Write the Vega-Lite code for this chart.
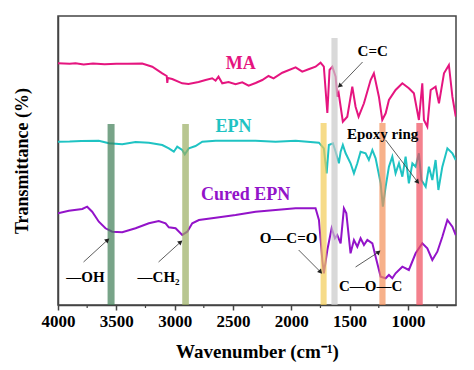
{
  "$schema": "https://vega.github.io/schema/vega-lite/v6.json",
  "autosize": "none",
  "width": 398,
  "height": 289,
  "padding": {"left": 58, "top": 16, "right": 18, "bottom": 65},
  "background": "white",
  "config": {
    "view": {"stroke": "#444", "strokeWidth": 1.5},
    "font": "Liberation Serif"
  },
  "datasets": {
    "spectra": [
      {"s": "MA", "w": 4000, "t": 241.7}, {"s": "MA", "w": 3900, "t": 241.2}, {"s": "MA", "w": 3850, "t": 241.8}, {"s": "MA", "w": 3780, "t": 240.6}, {"s": "MA", "w": 3700, "t": 241.4}, {"s": "MA", "w": 3600, "t": 240.7}, {"s": "MA", "w": 3500, "t": 241.2}, {"s": "MA", "w": 3400, "t": 241.3}, {"s": "MA", "w": 3278, "t": 241.5},
      {"s": "MA", "w": 3192, "t": 238.3}, {"s": "MA", "w": 3106, "t": 231.7}, {"s": "MA", "w": 3068, "t": 229}, {"s": "MA", "w": 3063, "t": 222}, {"s": "MA", "w": 3058, "t": 227}, {"s": "MA", "w": 3021, "t": 226},
      {"s": "MA", "w": 2935, "t": 221.7}, {"s": "MA", "w": 2881, "t": 221}, {"s": "MA", "w": 2795, "t": 223}, {"s": "MA", "w": 2735, "t": 225}, {"s": "MA", "w": 2678, "t": 226.7}, {"s": "MA", "w": 2649, "t": 224.3}, {"s": "MA", "w": 2624, "t": 228.3}, {"s": "MA", "w": 2592, "t": 221.7}, {"s": "MA", "w": 2538, "t": 223}, {"s": "MA", "w": 2478, "t": 220.7}, {"s": "MA", "w": 2420, "t": 222.7}, {"s": "MA", "w": 2366, "t": 219.3}, {"s": "MA", "w": 2306, "t": 222},
      {"s": "MA", "w": 2249, "t": 225}, {"s": "MA", "w": 2195, "t": 229}, {"s": "MA", "w": 2152, "t": 226.7}, {"s": "MA", "w": 2077, "t": 232.3}, {"s": "MA", "w": 1963, "t": 237.7}, {"s": "MA", "w": 1906, "t": 233.3}, {"s": "MA", "w": 1852, "t": 235.7}, {"s": "MA", "w": 1792, "t": 238.3}, {"s": "MA", "w": 1749, "t": 242.3}, {"s": "MA", "w": 1721, "t": 238.3}, {"s": "MA", "w": 1691, "t": 192}, {"s": "MA", "w": 1672, "t": 235}, {"s": "MA", "w": 1648, "t": 238.3}, {"s": "MA", "w": 1620, "t": 228.3}, {"s": "MA", "w": 1606, "t": 208.3}, {"s": "MA", "w": 1594, "t": 212},
      {"s": "MA", "w": 1558, "t": 183.3}, {"s": "MA", "w": 1520, "t": 188.3}, {"s": "MA", "w": 1477, "t": 218.3}, {"s": "MA", "w": 1449, "t": 198.3}, {"s": "MA", "w": 1423, "t": 188.3}, {"s": "MA", "w": 1377, "t": 201.7}, {"s": "MA", "w": 1320, "t": 225}, {"s": "MA", "w": 1292, "t": 231.7}, {"s": "MA", "w": 1249, "t": 208.3}, {"s": "MA", "w": 1220, "t": 185}, {"s": "MA", "w": 1191, "t": 191.7}, {"s": "MA", "w": 1163, "t": 205}, {"s": "MA", "w": 1106, "t": 215}, {"s": "MA", "w": 1048, "t": 221.7}, {"s": "MA", "w": 992, "t": 216.7}, {"s": "MA", "w": 949, "t": 211.7}, {"s": "MA", "w": 906, "t": 185}, {"s": "MA", "w": 877, "t": 221.7}, {"s": "MA", "w": 863, "t": 185}, {"s": "MA", "w": 834, "t": 178.3}, {"s": "MA", "w": 805, "t": 215}, {"s": "MA", "w": 763, "t": 218.3}, {"s": "MA", "w": 734, "t": 201.7}, {"s": "MA", "w": 691, "t": 231.7}, {"s": "MA", "w": 649, "t": 240}, {"s": "MA", "w": 619, "t": 208.3}, {"s": "MA", "w": 590, "t": 188.3},

      {"s": "EPN", "w": 4000, "t": 163.3}, {"s": "EPN", "w": 3900, "t": 163.5}, {"s": "EPN", "w": 3800, "t": 164}, {"s": "EPN", "w": 3650, "t": 164.3}, {"s": "EPN", "w": 3564, "t": 161.7}, {"s": "EPN", "w": 3449, "t": 160.7}, {"s": "EPN", "w": 3335, "t": 163}, {"s": "EPN", "w": 3221, "t": 162.3}, {"s": "EPN", "w": 3106, "t": 160}, {"s": "EPN", "w": 3050, "t": 156.7}, {"s": "EPN", "w": 3007, "t": 153.3}, {"s": "EPN", "w": 2978, "t": 158.3}, {"s": "EPN", "w": 2935, "t": 155}, {"s": "EPN", "w": 2913, "t": 150.7}, {"s": "EPN", "w": 2878, "t": 156.7}, {"s": "EPN", "w": 2821, "t": 159}, {"s": "EPN", "w": 2763, "t": 163.3}, {"s": "EPN", "w": 2649, "t": 164.3}, {"s": "EPN", "w": 2306, "t": 164.3}, {"s": "EPN", "w": 2135, "t": 163.3}, {"s": "EPN", "w": 1963, "t": 164.3}, {"s": "EPN", "w": 1763, "t": 162.3},
      {"s": "EPN", "w": 1721, "t": 156.7}, {"s": "EPN", "w": 1697, "t": 131.7}, {"s": "EPN", "w": 1678, "t": 160}, {"s": "EPN", "w": 1643, "t": 161.7}, {"s": "EPN", "w": 1620, "t": 153.3}, {"s": "EPN", "w": 1592, "t": 141.7}, {"s": "EPN", "w": 1577, "t": 153.3}, {"s": "EPN", "w": 1558, "t": 160}, {"s": "EPN", "w": 1534, "t": 151.7}, {"s": "EPN", "w": 1492, "t": 141.7}, {"s": "EPN", "w": 1463, "t": 131.7}, {"s": "EPN", "w": 1434, "t": 141.7}, {"s": "EPN", "w": 1406, "t": 153.3}, {"s": "EPN", "w": 1363, "t": 151.7}, {"s": "EPN", "w": 1335, "t": 145}, {"s": "EPN", "w": 1305, "t": 155}, {"s": "EPN", "w": 1277, "t": 146.7}, {"s": "EPN", "w": 1234, "t": 121.7}, {"s": "EPN", "w": 1215, "t": 98.3}, {"s": "EPN", "w": 1191, "t": 118.3}, {"s": "EPN", "w": 1163, "t": 138.3}, {"s": "EPN", "w": 1134, "t": 148.3}, {"s": "EPN", "w": 1106, "t": 131.7}, {"s": "EPN", "w": 1077, "t": 141.7}, {"s": "EPN", "w": 1048, "t": 128.3}, {"s": "EPN", "w": 1020, "t": 148.3}, {"s": "EPN", "w": 992, "t": 121.7}, {"s": "EPN", "w": 962, "t": 141.7}, {"s": "EPN", "w": 934, "t": 138.3}, {"s": "EPN", "w": 906, "t": 151.7}, {"s": "EPN", "w": 885, "t": 125}, {"s": "EPN", "w": 848, "t": 118.3}, {"s": "EPN", "w": 820, "t": 138.3}, {"s": "EPN", "w": 791, "t": 125}, {"s": "EPN", "w": 763, "t": 145}, {"s": "EPN", "w": 739, "t": 115}, {"s": "EPN", "w": 705, "t": 138.3}, {"s": "EPN", "w": 662, "t": 156.7}, {"s": "EPN", "w": 619, "t": 151.7}, {"s": "EPN", "w": 590, "t": 145},

      {"s": "Cured", "w": 4000, "t": 91.7}, {"s": "Cured", "w": 3907, "t": 94.3}, {"s": "Cured", "w": 3792, "t": 96}, {"s": "Cured", "w": 3750, "t": 98.3}, {"s": "Cured", "w": 3707, "t": 93.3}, {"s": "Cured", "w": 3650, "t": 83.3}, {"s": "Cured", "w": 3593, "t": 76.7}, {"s": "Cured", "w": 3535, "t": 73.3}, {"s": "Cured", "w": 3449, "t": 72.7}, {"s": "Cured", "w": 3335, "t": 76.7}, {"s": "Cured", "w": 3221, "t": 81.7}, {"s": "Cured", "w": 3136, "t": 84}, {"s": "Cured", "w": 3078, "t": 81.7}, {"s": "Cured", "w": 3050, "t": 77.7}, {"s": "Cured", "w": 2992, "t": 76.7}, {"s": "Cured", "w": 2935, "t": 70}, {"s": "Cured", "w": 2892, "t": 73.3}, {"s": "Cured", "w": 2849, "t": 81.7}, {"s": "Cured", "w": 2792, "t": 85}, {"s": "Cured", "w": 2649, "t": 87.3}, {"s": "Cured", "w": 2478, "t": 90}, {"s": "Cured", "w": 2306, "t": 93.3}, {"s": "Cured", "w": 2135, "t": 95}, {"s": "Cured", "w": 1963, "t": 96.7}, {"s": "Cured", "w": 1792, "t": 96.7},
      {"s": "Cured", "w": 1763, "t": 85}, {"s": "Cured", "w": 1734, "t": 45}, {"s": "Cured", "w": 1721, "t": 31.7}, {"s": "Cured", "w": 1691, "t": 55}, {"s": "Cured", "w": 1654, "t": 76.7}, {"s": "Cured", "w": 1626, "t": 66.7}, {"s": "Cured", "w": 1606, "t": 70}, {"s": "Cured", "w": 1577, "t": 61.7}, {"s": "Cured", "w": 1549, "t": 96.7}, {"s": "Cured", "w": 1528, "t": 91.7}, {"s": "Cured", "w": 1492, "t": 51.7}, {"s": "Cured", "w": 1463, "t": 65}, {"s": "Cured", "w": 1434, "t": 58.3}, {"s": "Cured", "w": 1406, "t": 66.7}, {"s": "Cured", "w": 1377, "t": 60}, {"s": "Cured", "w": 1348, "t": 65}, {"s": "Cured", "w": 1305, "t": 61.7}, {"s": "Cured", "w": 1277, "t": 48.3}, {"s": "Cured", "w": 1234, "t": 28.3}, {"s": "Cured", "w": 1191, "t": 26.7}, {"s": "Cured", "w": 1163, "t": 30}, {"s": "Cured", "w": 1134, "t": 26.7}, {"s": "Cured", "w": 1106, "t": 31.7}, {"s": "Cured", "w": 1048, "t": 38.3}, {"s": "Cured", "w": 992, "t": 35}, {"s": "Cured", "w": 934, "t": 51.7}, {"s": "Cured", "w": 877, "t": 61.7}, {"s": "Cured", "w": 834, "t": 56.7}, {"s": "Cured", "w": 791, "t": 45}, {"s": "Cured", "w": 748, "t": 53.3}, {"s": "Cured", "w": 705, "t": 68.3}, {"s": "Cured", "w": 662, "t": 85}, {"s": "Cured", "w": 619, "t": 78.3}, {"s": "Cured", "w": 590, "t": 70}
    ],
    "bands": [
      {"b": "OH", "x1": 3575, "x2": 3515, "y1": 0, "y2": 181},
      {"b": "CH2", "x1": 2935, "x2": 2878, "y1": 0, "y2": 181},
      {"b": "CO", "x1": 1749, "x2": 1697, "y1": 0, "y2": 182},
      {"b": "CC", "x1": 1656, "x2": 1603, "y1": 0, "y2": 267},
      {"b": "COC", "x1": 1245, "x2": 1192, "y1": 0, "y2": 182},
      {"b": "EP", "x1": 928, "x2": 873, "y1": 0, "y2": 182}
    ],
    "labels": [
      {"txt": "MA", "w": 2433, "t": 241, "k": "MA"},
      {"txt": "EPN", "w": 2495, "t": 178, "k": "EPN"},
      {"txt": "Cured EPN", "w": 2392, "t": 110, "k": "Cured"}
    ],
    "notes": [
      {"txt": "C=C", "w": 1302, "t": 254},
      {"txt": "Epoxy ring", "w": 1217, "t": 171},
      {"txt": "—OH", "w": 3764, "t": 28},
      {"txt": "—CH₂", "w": 3138, "t": 28},
      {"txt": "O—C=O", "w": 2024, "t": 67},
      {"txt": "C—O—C", "w": 1320, "t": 19}
    ],
    "arrows": [
      {"a": "up", "x1": 3781, "y1": 43, "x2": 3575, "y2": 65},
      {"a": "up", "x1": 3138, "y1": 43, "x2": 2949, "y2": 63},
      {"a": "up", "x1": 1449, "y1": 38, "x2": 1251, "y2": 53},
      {"a": "down", "x1": 1937, "y1": 55, "x2": 1749, "y2": 33},
      {"a": "down", "x1": 1191, "y1": 165, "x2": 917, "y2": 123},
      {"a": "left", "x1": 1389, "y1": 243, "x2": 1586, "y2": 219}
    ],
    "minor": [{"w": 3750}, {"w": 3250}, {"w": 2750}, {"w": 2250}, {"w": 1750}, {"w": 1250}, {"w": 750}]
  },
  "layer": [
    {
      "data": {"name": "spectra"},
      "mark": {"type": "line", "strokeWidth": 2, "clip": true},
      "encoding": {
        "x": {
          "field": "w", "type": "quantitative",
          "scale": {"domain": [4000, 588], "nice": false, "zero": false},
          "axis": {
            "title": "Wavenumber (cm⁻¹)",
            "values": [4000, 3500, 3000, 2500, 2000, 1500, 1000],
            "format": "d",
            "grid": false,
            "labelFlush": false,
            "domainColor": "#444", "domainWidth": 1.5,
            "tickColor": "#444", "tickSize": 5, "tickWidth": 1.5,
            "labelFont": "Liberation Serif", "labelFontWeight": "bold", "labelFontSize": 17, "labelColor": "#000", "labelPadding": 3,
            "titleFont": "Liberation Serif", "titleFontWeight": "bold", "titleFontSize": 19, "titleColor": "#000", "titlePadding": 13
          }
        },
        "y": {
          "field": "t", "type": "quantitative",
          "scale": {"domain": [0, 289], "nice": false, "zero": false},
          "axis": {
            "title": "Transmittance (%)",
            "labels": false, "ticks": false, "grid": false,
            "domainColor": "#444", "domainWidth": 1.5,
            "titleFont": "Liberation Serif", "titleFontWeight": "bold", "titleFontSize": 18, "titleColor": "#000", "titlePadding": 27
          }
        },
        "detail": {"field": "s"},
        "color": {
          "field": "s", "type": "nominal",
          "scale": {"domain": ["MA", "EPN", "Cured"], "range": ["#e5157f", "#1fc3c3", "#9313c9"]},
          "legend": null
        }
      }
    },
    {
      "data": {"name": "bands"},
      "mark": {"type": "rect", "opacity": 0.7},
      "encoding": {
        "x": {"field": "x1", "type": "quantitative"},
        "x2": {"field": "x2"},
        "y": {"field": "y1", "type": "quantitative"},
        "y2": {"field": "y2"},
        "fill": {
          "field": "b", "type": "nominal",
          "scale": {"domain": ["OH", "CH2", "CO", "CC", "COC", "EP"], "range": ["#3f7d55", "#9aae63", "#f2cc55", "#c9c9c9", "#f39058", "#f04b5c"]},
          "legend": null
        }
      }
    },
    {
      "data": {"name": "labels"},
      "mark": {"type": "text", "font": "Liberation Serif", "fontWeight": "bold", "fontSize": 18, "baseline": "middle", "align": "center"},
      "encoding": {
        "x": {"field": "w", "type": "quantitative"},
        "y": {"field": "t", "type": "quantitative"},
        "text": {"field": "txt"},
        "color": {"field": "k", "type": "nominal", "legend": null}
      }
    },
    {
      "data": {"name": "notes"},
      "mark": {"type": "text", "font": "Liberation Serif", "fontWeight": "bold", "fontSize": 15, "baseline": "middle", "align": "center", "color": "#000"},
      "encoding": {
        "x": {"field": "w", "type": "quantitative"},
        "y": {"field": "t", "type": "quantitative"},
        "text": {"field": "txt"}
      }
    },
    {
      "data": {"name": "arrows"},
      "mark": {"type": "rule", "color": "#333", "strokeWidth": 0.8},
      "encoding": {
        "x": {"field": "x1", "type": "quantitative"},
        "y": {"field": "y1", "type": "quantitative"},
        "x2": {"field": "x2"},
        "y2": {"field": "y2"}
      }
    },
    {
      "data": {"name": "arrows"},
      "transform": [{"filter": "datum.a == 'up'"}],
      "mark": {"type": "point", "shape": "triangle-up", "filled": true, "color": "#222", "size": 28, "angle": 50, "opacity": 1},
      "encoding": {
        "x": {"field": "x2", "type": "quantitative"},
        "y": {"field": "y2", "type": "quantitative"}
      }
    },
    {
      "data": {"name": "arrows"},
      "transform": [{"filter": "datum.a == 'down'"}],
      "mark": {"type": "point", "shape": "triangle-up", "filled": true, "color": "#222", "size": 28, "angle": 138, "opacity": 1},
      "encoding": {
        "x": {"field": "x2", "type": "quantitative"},
        "y": {"field": "y2", "type": "quantitative"}
      }
    },
    {
      "data": {"name": "arrows"},
      "transform": [{"filter": "datum.a == 'left'"}],
      "mark": {"type": "point", "shape": "triangle-up", "filled": true, "color": "#222", "size": 28, "angle": 227, "opacity": 1},
      "encoding": {
        "x": {"field": "x2", "type": "quantitative"},
        "y": {"field": "y2", "type": "quantitative"}
      }
    },
    {
      "data": {"name": "minor"},
      "mark": {"type": "rule", "color": "#444", "strokeWidth": 1.2},
      "encoding": {
        "x": {"field": "w", "type": "quantitative"},
        "y": {"datum": 0},
        "y2": {"datum": -3}
      }
    }
  ]
}
